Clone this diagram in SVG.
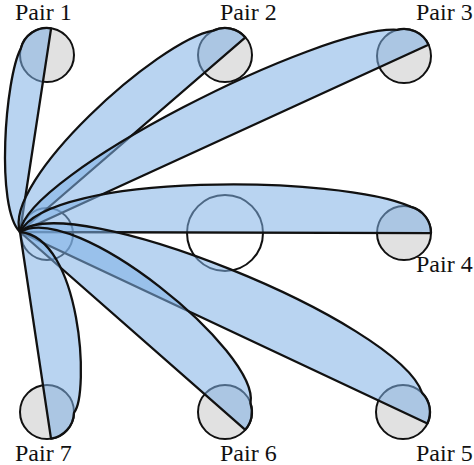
<svg xmlns="http://www.w3.org/2000/svg" width="474" height="465" viewBox="0 0 474 465">
<style>
.bg{fill:#ffffff}
.pc{fill:#e1e1e1;stroke:#111;stroke-width:2}
.oc{fill:#ffffff;stroke:#111;stroke-width:2}
.hc{fill:none;stroke:#111;stroke-width:2}
.lens{fill:#7fb0e6;fill-opacity:0.55;stroke:#111;stroke-width:2.3;stroke-linejoin:round}
.lbl{font-family:'Times New Roman','Liberation Serif',Tinos,'Noto Serif','DejaVu Serif',serif;font-size:24px;fill:#111}
</style>
<rect class="bg" x="0" y="0" width="474" height="465"/>
<g id="hub"><circle class="hc" cx="47" cy="234" r="26"/></g>
<g id="center"><circle class="oc" cx="225" cy="233" r="38"/></g>
<g id="pair1"><circle class="pc" cx="47" cy="55" r="27"/><text class="lbl" x="15" y="20">Pair 1</text></g>
<g id="pair2"><circle class="pc" cx="225" cy="55" r="27"/><text class="lbl" x="220" y="20">Pair 2</text></g>
<g id="pair3"><circle class="pc" cx="404" cy="56" r="27"/><text class="lbl" x="416" y="20">Pair 3</text></g>
<g id="pair4"><circle class="pc" cx="404" cy="233" r="27"/><text class="lbl" x="416" y="271.5">Pair 4</text></g>
<g id="pair5"><circle class="pc" cx="403" cy="412" r="27"/><text class="lbl" x="416" y="460.5">Pair 5</text></g>
<g id="pair6"><circle class="pc" cx="225" cy="412" r="27"/><text class="lbl" x="220" y="460.5">Pair 6</text></g>
<g id="pair7"><circle class="pc" cx="47" cy="412" r="27"/><text class="lbl" x="15" y="460.5">Pair 7</text></g>
<g id="connectors">
<path class="lens" d="M20,232 L51.1,28.3 A27,27 0 0 0 20.8,48.6 C5.1,78 -4.7,208 20,232 Z"/>
<path class="lens" d="M20,232 L245.4,37.4 A27,27 0 0 0 213.2,30.6 C158.2,40.1 2.4,181 20,232 Z"/>
<path class="lens" d="M20,232 L428.5,44.7 A27,27 0 0 0 397.2,29.8 C321.5,25.6 26.5,174 20,232 Z"/>
<path class="lens" d="M20,232 L431,233.1 A27,27 0 0 0 411.1,206.9 C340.2,174.8 50.2,172.1 20,232 Z"/>
<path class="lens" d="M20,232 L427.4,423.5 A27,27 0 0 0 422.1,392.9 C397.9,321.2 68.1,188.3 20,232 Z"/>
<path class="lens" d="M20,232 L245.3,429.8 A27,27 0 0 0 250.5,403.3 C260.3,352.4 74.6,200.1 20,232 Z"/>
<path class="lens" d="M20,232 L51,438.7 A27,27 0 0 0 74,412.7 C89.7,393.4 81.5,237.9 20,232 Z"/>
</g>
</svg>
